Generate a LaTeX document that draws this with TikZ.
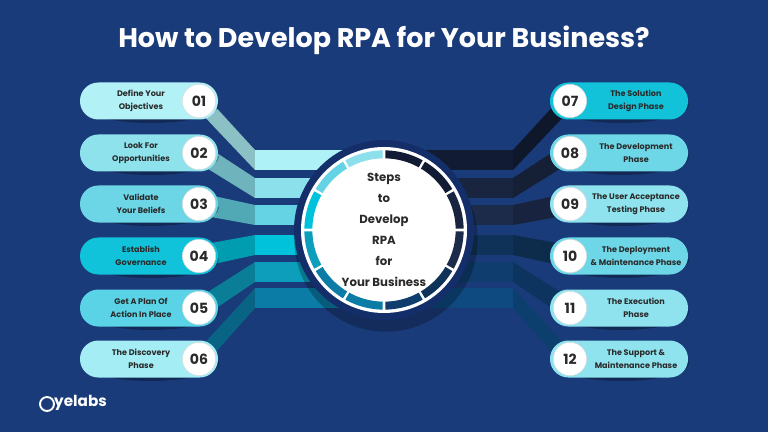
\documentclass[tikz,border=0pt]{standalone}
\usepackage{fontspec}
\setmainfont{Poppins}
\usetikzlibrary{calc}
\definecolor{bg}{HTML}{1A3B7A}
\definecolor{ring}{HTML}{132E68}
\definecolor{txt}{HTML}{2A2A2A}
\definecolor{l1}{HTML}{AEF1F6}
\definecolor{l2}{HTML}{8BE0EB}
\definecolor{l3}{HTML}{66D3E4}
\definecolor{l4}{HTML}{00C3DB}
\definecolor{l5}{HTML}{0C9EBB}
\definecolor{l6}{HTML}{0A7CA6}
\definecolor{r1}{HTML}{111B33}
\definecolor{r2}{HTML}{19253F}
\definecolor{r3}{HTML}{1C2B4A}
\definecolor{r4}{HTML}{0F3358}
\definecolor{r5}{HTML}{0E3D6E}
\definecolor{r6}{HTML}{0E4A80}
\definecolor{p1}{HTML}{B2F2F7}
\definecolor{p2}{HTML}{8EE2EC}
\definecolor{p3}{HTML}{6CD6E6}
\definecolor{p4}{HTML}{10C2DA}
\definecolor{p5}{HTML}{5AD3E6}
\definecolor{p6}{HTML}{A4EDF4}
\definecolor{p7}{HTML}{12C2D9}
\definecolor{p8}{HTML}{6DD7E7}
\definecolor{p9}{HTML}{8EE3EE}
\definecolor{p10}{HTML}{6ED7E7}
\definecolor{p11}{HTML}{8EE3EE}
\definecolor{p12}{HTML}{8EE3EE}
\tikzset{
 pill/.style={rectangle, rounded corners=0.55cm, minimum width=4.14cm, minimum height=1.11cm, inner sep=0pt},
 num/.style={circle, fill=white, draw=black!15, line width=0.4pt, minimum size=1.0cm, inner sep=0pt, font=\bfseries\fontsize{12}{12}\selectfont, text=txt},
 lab/.style={font=\bfseries\fontsize{6.9}{11.5}\selectfont, text=txt, align=center},
}
\begin{document}
\begin{tikzpicture}[x=0.03cm,y=0.03cm]
\fill[bg] (0,0) rectangle (768,-432);
\useasboundingbox (0,0) rectangle (768,-432);
\node[text=white, font=\bfseries\fontsize{23}{23}\selectfont] (title) at (384,-40) {How to Develop RPA for Your Business?};
% bands
\foreach \i/\py/\by/\c in {1/101/160/l1,2/153/188/l2,3/204/215/l3,4/256/245/l4,5/308/272/l5,6/359/298/l6}{
  \fill[\c!80!black] (200,-\py+11) -- (255,-\by+10) -- (255,-\by-10) -- (200,-\py-11) -- cycle;
  \fill[\c] (255,-\by+10) -- (384,-\by+10) -- (384,-\by-10) -- (255,-\by-10) -- cycle;
}
\foreach \i/\py/\by/\c in {1/101/160/r1,2/153/188/r2,3/204/215/r3,4/256/245/r4,5/308/272/r5,6/359/298/r6}{
  \fill[\c!85!black] (568,-\py+11) -- (513,-\by+10) -- (513,-\by-10) -- (568,-\py-11) -- cycle;
  \fill[\c] (513,-\by+10) -- (384,-\by+10) -- (384,-\by-10) -- (513,-\by-10) -- cycle;
}
% center
\coordinate (C) at (384,-230);
\fill[black, opacity=0.25] (386,-240) circle[radius=2.75cm];
\node[circle, fill=ring, minimum size=5.4cm, inner sep=0pt] (outer) at (C) {};
\node[circle, fill=white, minimum size=4.98cm, inner sep=0pt] (inner) at (C) {};
\foreach \k/\c in {0/r1,1/r1,2/r2,3/r3,4/r4,5/r5,6/l6,7/l6,8/l5,9/l4,10/l3,11/l2}{
  \pgfmathsetmacro\aa{90-30*\k-1}
  \pgfmathsetmacro\ab{90-30*(\k+1)+1}
  \fill[\c] ($(C)+(\aa:2.39cm)$) arc[start angle=\aa, end angle=\ab, radius=2.39cm] -- ($(C)+(\ab:2.15cm)$) arc[start angle=\ab, end angle=\aa, radius=2.15cm] -- cycle;
}
\node[font=\bfseries\fontsize{10}{18}\selectfont, text=txt, align=center] (ctext) at (C) {Steps\\to\\Develop\\RPA\\for\\Your Business};
% left pills
\foreach \i/\py/\c/\t in {1/101/p1/{Define Your\\Objectives},2/153/p2/{Look For\\Opportunities},3/204/p3/{Validate\\Your Beliefs},4/256/p4/{Establish\\Governance},5/308/p5/{Get A Plan Of\\Action In Place},6/359/p6/{The Discovery\\Phase}}{
  \fill[black,opacity=0.3] (151,-\py-4) ellipse[x radius=68, y radius=18];
  \node[pill, fill=\c] (L\i) at (149,-\py) {};
  \node[lab] (Lt\i) at (141,-\py) {\t};
  \node[num] (Ln\i) at (199,-\py) {0\i};
}
% right pills
\foreach \i/\py/\c/\n/\t in {1/101/p7/07/{The Solution\\Design Phase},2/153/p8/08/{The Development\\Phase},3/204/p9/09/{The User Acceptance\\Testing Phase},4/256/p10/10/{The Deployment\\\& Maintenance Phase},5/308/p11/11/{The Execution\\Phase},6/359/p12/12/{The Support \&\\Maintenance Phase}}{
  \fill[black,opacity=0.3] (621,-\py-4) ellipse[x radius=68, y radius=18];
  \node[pill, fill=\c] (R\i) at (619,-\py) {};
  \node[lab] (Rt\i) at (636,-\py) {\t};
  \node[num] (Rn\i) at (570,-\py) {\n};
}
% logo
\node[circle, draw=white, line width=1.6pt, minimum size=0.42cm, inner sep=0pt] (logo) at (47,-404) {};
\node[anchor=west, text=white, font=\bfseries\fontsize{13}{13}\selectfont, inner sep=0pt] (brand) at (54,-403) {yelabs};
\end{tikzpicture}
\end{document}
